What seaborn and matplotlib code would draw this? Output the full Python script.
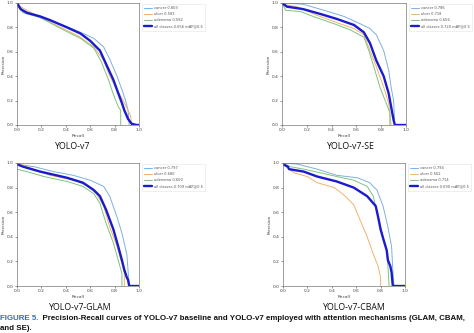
import matplotlib
matplotlib.use("Agg")
import matplotlib.pyplot as plt
import seaborn as sns
import pandas as pd

sns.set_style("ticks")
plt.rcParams["font.family"] = ["DejaVu Sans"]

# ---- PR curves, (recall, precision) pairs per class ----
# YOLO-v7 baseline
v7_cancer_r = [0.00, 0.05, 0.19, 0.35, 0.52, 0.63, 0.71, 0.76, 0.82, 0.86, 0.89, 0.91, 0.92]
v7_cancer_p = [1.00, 0.94, 0.88, 0.83, 0.76, 0.71, 0.64, 0.54, 0.40, 0.29, 0.20, 0.12, 0.00]
v7_ulcer_r = [0.00, 0.08, 0.22, 0.38, 0.52, 0.63, 0.71, 0.76, 0.82, 0.87, 0.91, 0.93, 0.94]
v7_ulcer_p = [0.99, 0.94, 0.87, 0.79, 0.72, 0.64, 0.53, 0.40, 0.29, 0.20, 0.12, 0.08, 0.00]
v7_adenoma_r = [0.00, 0.05, 0.19, 0.38, 0.52, 0.63, 0.69, 0.75, 0.79, 0.83, 0.85, 0.85]
v7_adenoma_p = [0.98, 0.92, 0.88, 0.78, 0.71, 0.63, 0.52, 0.37, 0.25, 0.15, 0.12, 0.00]
v7_all_r = [0.00, 0.03, 0.08, 0.19, 0.27, 0.41, 0.52, 0.60, 0.68, 0.73, 0.79, 0.83, 0.86, 0.88, 0.91, 0.94, 0.98, 1.00]
v7_all_p = [1.00, 0.95, 0.92, 0.89, 0.86, 0.80, 0.75, 0.69, 0.61, 0.50, 0.37, 0.26, 0.18, 0.12, 0.05, 0.01, 0.00, 0.00]

# YOLO-v7-SE
se_cancer_r = [0.00, 0.17, 0.34, 0.50, 0.63, 0.71, 0.76, 0.82, 0.86, 0.88, 0.90, 0.91]
se_cancer_p = [1.00, 0.99, 0.94, 0.89, 0.83, 0.79, 0.74, 0.61, 0.45, 0.31, 0.20, 0.00]
se_ulcer_r = [0.00, 0.12, 0.28, 0.44, 0.58, 0.66, 0.71, 0.76, 0.82, 0.86, 0.87, 0.88]
se_ulcer_p = [0.99, 0.97, 0.90, 0.84, 0.79, 0.74, 0.61, 0.48, 0.31, 0.18, 0.10, 0.00]
se_adenoma_r = [0.00, 0.03, 0.15, 0.25, 0.42, 0.55, 0.66, 0.70, 0.74, 0.79, 0.84, 0.87, 0.87]
se_adenoma_p = [1.00, 0.94, 0.93, 0.89, 0.83, 0.78, 0.72, 0.61, 0.48, 0.31, 0.18, 0.10, 0.00]
se_all_r = [0.00, 0.04, 0.17, 0.31, 0.44, 0.58, 0.66, 0.71, 0.76, 0.82, 0.86, 0.88, 0.90, 0.91, 1.00]
se_all_p = [1.00, 0.97, 0.95, 0.91, 0.87, 0.82, 0.76, 0.67, 0.53, 0.40, 0.26, 0.15, 0.04, 0.00, 0.00]

# YOLO-v7-GLAM
gl_cancer_r = [0.00, 0.14, 0.30, 0.46, 0.60, 0.71, 0.76, 0.82, 0.86, 0.90, 0.91, 0.92]
gl_cancer_p = [0.99, 0.97, 0.93, 0.90, 0.86, 0.81, 0.73, 0.56, 0.43, 0.26, 0.13, 0.00]
gl_ulcer_r = [0.00, 0.11, 0.27, 0.46, 0.57, 0.65, 0.71, 0.76, 0.82, 0.86, 0.88, 0.88]
gl_ulcer_p = [1.00, 0.96, 0.90, 0.86, 0.82, 0.75, 0.65, 0.48, 0.32, 0.18, 0.10, 0.00]
gl_adenoma_r = [0.00, 0.08, 0.22, 0.41, 0.54, 0.63, 0.68, 0.73, 0.79, 0.83, 0.86, 0.86]
gl_adenoma_p = [0.95, 0.93, 0.89, 0.85, 0.81, 0.75, 0.67, 0.51, 0.35, 0.21, 0.10, 0.00]
gl_all_r = [0.00, 0.05, 0.19, 0.41, 0.54, 0.63, 0.68, 0.73, 0.79, 0.83, 0.86, 0.88, 0.90, 0.91, 0.92, 1.00]
gl_all_p = [0.99, 0.97, 0.93, 0.88, 0.84, 0.78, 0.73, 0.62, 0.46, 0.32, 0.21, 0.13, 0.07, 0.05, 0.00, 0.00]

# YOLO-v7-CBAM
cb_cancer_r = [0.00, 0.12, 0.28, 0.44, 0.61, 0.71, 0.77, 0.82, 0.86, 0.89, 0.90, 0.91]
cb_cancer_p = [1.00, 0.99, 0.95, 0.90, 0.88, 0.84, 0.78, 0.65, 0.48, 0.32, 0.13, 0.00]
cb_ulcer_r = [0.00, 0.05, 0.09, 0.20, 0.28, 0.42, 0.50, 0.58, 0.63, 0.69, 0.74, 0.78, 0.80, 0.80]
cb_ulcer_p = [0.99, 0.95, 0.92, 0.89, 0.84, 0.80, 0.74, 0.66, 0.54, 0.40, 0.26, 0.16, 0.07, 0.00]
cb_adenoma_r = [0.00, 0.06, 0.17, 0.31, 0.44, 0.58, 0.69, 0.74, 0.78, 0.82, 0.85, 0.86, 0.87]
cb_adenoma_p = [1.00, 0.97, 0.95, 0.92, 0.89, 0.86, 0.81, 0.73, 0.56, 0.40, 0.29, 0.16, 0.00]
cb_all_r = [0.00, 0.04, 0.05, 0.17, 0.28, 0.44, 0.58, 0.69, 0.76, 0.78, 0.80, 0.82, 0.85, 0.86, 0.88, 0.89, 0.90, 1.00]
cb_all_p = [0.99, 0.97, 0.95, 0.93, 0.89, 0.85, 0.80, 0.73, 0.65, 0.56, 0.46, 0.39, 0.29, 0.21, 0.16, 0.11, 0.00, 0.00]

# ---- AP values shown in legends ----
class_names = ["cancer", "ulcer", "adenoma"]
v7_ap = [0.803, 0.583, 0.582, 0.656]
se_ap = [0.786, 0.718, 0.656, 0.720]
gl_ap = [0.797, 0.680, 0.650, 0.709]
cb_ap = [0.794, 0.562, 0.714, 0.690]

panel_titles = ["YOLO-v7", "YOLO-v7-SE", "YOLO-v7-GLAM", "YOLO-v7-CBAM"]
tick_vals = [0.0, 0.2, 0.4, 0.6, 0.8, 1.0]
tick_labels = ["0.0", "0.2", "0.4", "0.6", "0.8", "1.0"]

panels = [
    ([(v7_cancer_r, v7_cancer_p), (v7_ulcer_r, v7_ulcer_p), (v7_adenoma_r, v7_adenoma_p)], (v7_all_r, v7_all_p), v7_ap),
    ([(se_cancer_r, se_cancer_p), (se_ulcer_r, se_ulcer_p), (se_adenoma_r, se_adenoma_p)], (se_all_r, se_all_p), se_ap),
    ([(gl_cancer_r, gl_cancer_p), (gl_ulcer_r, gl_ulcer_p), (gl_adenoma_r, gl_adenoma_p)], (gl_all_r, gl_all_p), gl_ap),
    ([(cb_cancer_r, cb_cancer_p), (cb_ulcer_r, cb_ulcer_p), (cb_adenoma_r, cb_adenoma_p)], (cb_all_r, cb_all_p), cb_ap),
]

class_colors = ["#7fb0dc", "#f2b36b", "#7cc47c"]
all_color = "#1a1ad0"

W, H = 474, 333
fig = plt.figure(figsize=(W / 100, H / 100), dpi=100)

# axes boxes in pixels: (left, top, right, bottom)
boxes = [(17, 3, 139, 125), (282, 3, 406, 125), (17, 163, 139, 286), (283, 163, 405, 286)]
title_pos = [(73, 147), (351, 147), (80, 308), (354, 308)]

def px_rect(b):
    l, t, r, bt = b
    return [l / W, 1 - bt / H, (r - l) / W, (bt - t) / H]

for i, (classes, allc, ap) in enumerate(panels):
    ax = fig.add_axes(px_rect(boxes[i]))
    for (r, p), name, col, a in zip(classes, class_names, class_colors, ap[:3]):
        df = pd.DataFrame({"Recall": r, "Precision": p})
        sns.lineplot(data=df, x="Recall", y="Precision", ax=ax, sort=False,
                     estimator=None, color=col, linewidth=0.7,
                     label=f"{name} {a:.3f}")
    df = pd.DataFrame({"Recall": allc[0], "Precision": allc[1]})
    sns.lineplot(data=df, x="Recall", y="Precision", ax=ax, sort=False,
                 estimator=None, color=all_color, linewidth=1.7,
                 label=f"all classes {ap[3]:.3f} mAP@0.5")
    ax.set_xlim(0, 1)
    ax.set_ylim(0, 1)
    ax.set_xticks(tick_vals)
    ax.set_xticklabels(tick_labels)
    ax.set_yticks(tick_vals)
    ax.set_yticklabels(tick_labels)
    ax.tick_params(labelsize=3.2, length=1.5, width=0.4, pad=1, colors="#444444")
    ax.set_xlabel("Recall", fontsize=3.2, labelpad=1, color="#444444")
    ax.set_ylabel("Precision", fontsize=3.2, labelpad=1, color="#444444")
    for s in ax.spines.values():
        s.set_linewidth(0.5)
        s.set_color("#777777")
    leg = ax.legend(loc="upper left", bbox_to_anchor=(1.02, 1.0), fontsize=2.6,
                    frameon=True, handlelength=2.2, handletextpad=0.5,
                    borderpad=0.6, labelspacing=0.6, borderaxespad=0.2,
                    fancybox=False, edgecolor="#dddddd")
    leg.get_frame().set_linewidth(0.4)
    for t in leg.get_texts():
        t.set_color("#555555")
    tx, ty = title_pos[i]
    fig.text(tx / W, 1 - ty / H, panel_titles[i], ha="center", va="center",
             fontsize=6.3, family="Open Sans", color="#111111")

cap_y = 1 - 319 / H
t1 = fig.text(0.0, cap_y, "FIGURE 5.", ha="left", va="center", fontsize=5.7,
              family="Liberation Sans", weight="bold", color="#2a6fb8")
fig.axes[0].annotate(
    "  Precision-Recall curves of YOLO-v7 baseline and YOLO-v7 employed with attention mechanisms (GLAM, CBAM,",
    xy=(1, 0.5), xycoords=t1, ha="left", va="center", fontsize=5.7,
    family="Liberation Sans", weight="bold", color="#111111", annotation_clip=False)
fig.text(0.0, 1 - 329 / H, "and SE).", ha="left", va="center", fontsize=5.7,
         family="Liberation Sans", weight="bold", color="#111111")

fig.savefig("out.png", dpi=100)
